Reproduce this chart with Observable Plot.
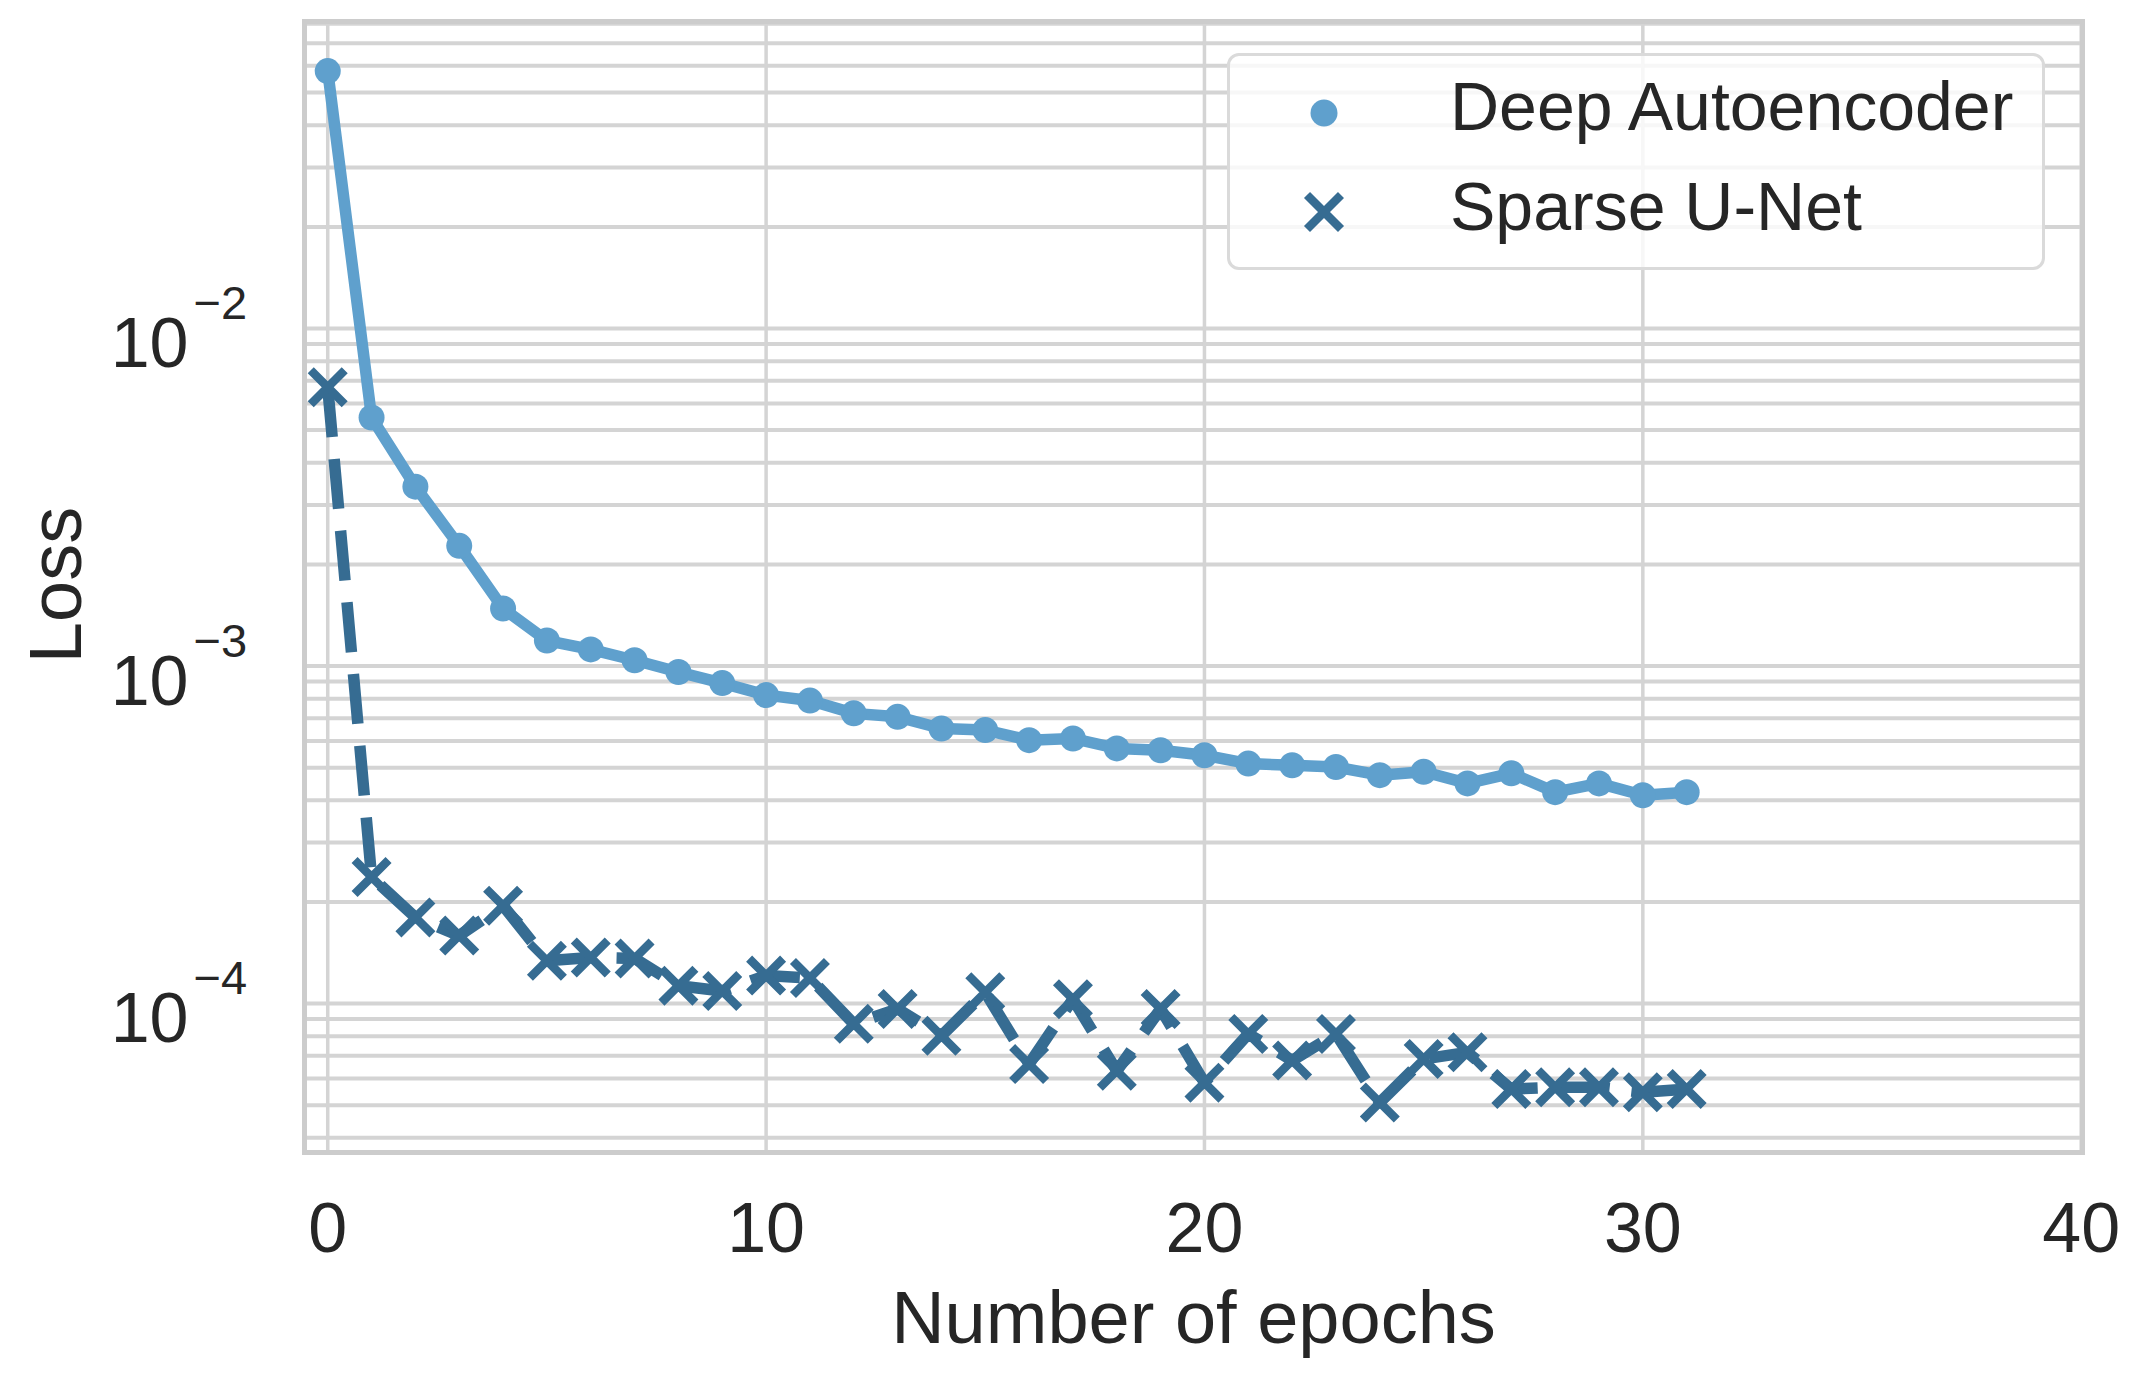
<!DOCTYPE html>
<html>
<head>
<meta charset="utf-8">
<script src="https://cdn.jsdelivr.net/npm/d3@7"></script>
<script src="https://cdn.jsdelivr.net/npm/@observablehq/plot@0.6"></script>
<style>
  html, body { margin: 0; padding: 0; background: #fff; overflow: hidden; }
  #wrap { position: relative; width: 2138px; height: 1382px; font-family: "Liberation Sans", Arial, sans-serif; color: #262626; }
  #legend { position: absolute; left: 1227px; top: 53px; width: 818px; height: 217px; box-sizing: border-box;
            border: 3px solid #dadada; border-radius: 12px; background: rgba(255,255,255,0.8); }
  #legend svg { position: absolute; left: 0; top: 0; }
</style>
</head>
<body>
<div id="wrap"></div>
<script>
// ---- data ----
const epochs = d3.range(0, 32);
const deepAutoencoder = [0.0579, 0.00545, 0.0034, 0.00227, 0.00148, 0.00119, 0.00112, 0.00104, 0.00096, 0.00089,
  0.00082, 0.00079, 0.000724, 0.000707, 0.000653, 0.000646, 0.000603, 0.00061, 0.00057, 0.000563,
  0.000544, 0.000514, 0.000508, 0.000502, 0.000475, 0.000486, 0.000449, 0.000481, 0.000423, 0.000449,
  0.000414, 0.000423];
const sparseUNet = [0.0067, 0.000237, 0.00018, 0.000159, 0.000195, 0.000134, 0.000137, 0.000136, 0.000113, 0.000109,
  0.000121, 0.000119, 0.0000871, 0.0000964, 0.0000803, 0.000108, 0.0000662, 0.000103, 0.0000632, 0.0000964,
  0.0000583, 0.0000813, 0.0000678, 0.0000813, 0.0000509, 0.0000685, 0.0000717, 0.0000558, 0.0000565, 0.0000565,
  0.0000546, 0.0000558];
const seriesNames = ["Deep Autoencoder", "Sparse U-Net"];
const xTicks = [0, 10, 20, 30, 40];
const yMajor = [1e-2, 1e-3, 1e-4];
const yExponents = ["\u22122", "\u22123", "\u22124"];
const xLabel = "Number of epochs";
const yLabel = "Loss";

// ---- styling ----
const daColor = "#5fa0cd";
const suColor = "#366c92";
const gridColor = "#d4d4d4";
const textColor = "#262626";
const xDomain = [-0.53, 40.03];
const yDomain = [3.62e-5, 0.0812];

const daRows = epochs.map((e, i) => ({epoch: e, loss: deepAutoencoder[i]}));
const suRows = epochs.map((e, i) => ({epoch: e, loss: sparseUNet[i]}));
const yMinor = d3.scaleLog().domain(yDomain).ticks();

const chart = Plot.plot({
  width: 2138,
  height: 1382,
  marginLeft: 304,
  marginRight: 56,
  marginTop: 21,
  marginBottom: 230,
  x: {domain: xDomain, axis: null},
  y: {type: "log", domain: yDomain, axis: null},
  style: {fontFamily: "'Liberation Sans', Arial, sans-serif", color: textColor, background: "white"},
  marks: [
    Plot.gridY(yMinor, {stroke: gridColor, strokeOpacity: 1, strokeWidth: 4}),
    Plot.gridX(xTicks, {stroke: gridColor, strokeOpacity: 1, strokeWidth: 3.5}),
    Plot.frame({stroke: "#cccccc", strokeWidth: 5}),
    Plot.axisX(xTicks, {tickSize: 0, tickPadding: 50, fontSize: 70, fill: textColor, label: null}),
    Plot.text(yMajor, {y: d => d, text: () => "10", frameAnchor: "left", textAnchor: "end",
      dx: -116, dy: 16.5, fontSize: 70, fill: textColor}),
    Plot.text(yMajor, {y: d => d, text: (d, i) => yExponents[i], frameAnchor: "left", textAnchor: "start",
      dx: -111, dy: -24.5, fontSize: 47, fill: textColor}),
    Plot.text([xLabel], {text: d => d, frameAnchor: "bottom", lineAnchor: "bottom", dy: 190, fontSize: 74, fill: textColor}),
    Plot.text([yLabel], {text: d => d, frameAnchor: "left", textAnchor: "middle", lineAnchor: "bottom", rotate: -90, dx: -224, dy: -2, fontSize: 74, fill: textColor}),
    Plot.line(daRows, {x: "epoch", y: "loss", stroke: daColor, strokeWidth: 11.5}),
    Plot.dot(daRows, {x: "epoch", y: "loss", r: 13, fill: daColor}),
    Plot.line(suRows, {x: "epoch", y: "loss", stroke: suColor, strokeWidth: 11.5, strokeDasharray: "50,22", strokeLinecap: "butt"}),
    Plot.dot(suRows, {x: "epoch", y: "loss", symbol: "times", r: 15.5, stroke: suColor, strokeWidth: 8.5})
  ]
});

const wrap = document.getElementById("wrap");
wrap.appendChild(chart);

// ---- legend ----
const legend = document.createElement("div");
legend.id = "legend";
legend.innerHTML = `
<svg width="812" height="211" xmlns="http://www.w3.org/2000/svg">
  <circle cx="94" cy="57" r="13.5" fill="${daColor}"></circle>
  <path d="M77,139L111,173M77,173L111,139" stroke="${suColor}" stroke-width="8.5" fill="none"></path>
  <text x="220" y="74" font-size="68" fill="${textColor}" font-family="'Liberation Sans', Arial, sans-serif">${seriesNames[0]}</text>
  <text x="220" y="174" font-size="68" fill="${textColor}" font-family="'Liberation Sans', Arial, sans-serif">${seriesNames[1]}</text>
</svg>`;
wrap.appendChild(legend);
</script>
</body>
</html>
